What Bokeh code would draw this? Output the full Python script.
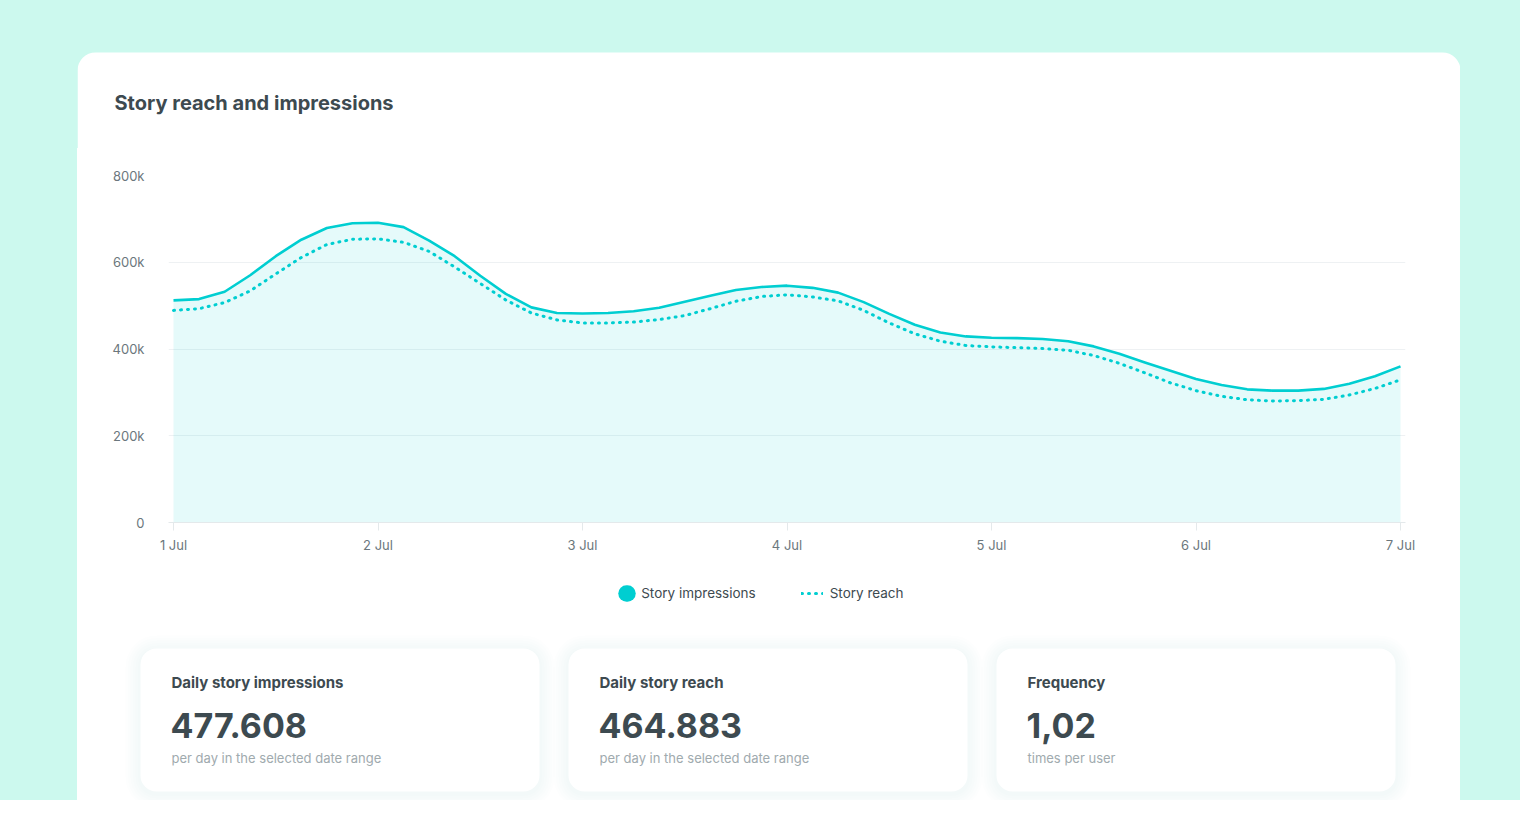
from bokeh.plotting import figure
from bokeh.layouts import column, row
from bokeh.models import FixedTicker, Legend, LegendItem, Range1d
from bokeh.core.properties import value
from bokeh.embed import file_html
from bokeh.resources import INLINE

# ---------------- data (every 3 hours) ----------------
hours = [0, 3, 6, 9, 12, 15, 18, 21, 24, 27, 30, 33, 36, 39, 42, 45, 48,
         51, 54, 57, 60, 63, 66, 69, 72, 75, 78, 81, 84, 87, 90, 93, 96,
         99, 102, 105, 108, 111, 114, 117, 120, 123, 126, 129, 132, 135, 138, 141, 144]
day_ticks = [0, 1, 2, 3, 4, 5, 6]
day_labels = ["1 Jul", "2 Jul", "3 Jul", "4 Jul", "5 Jul", "6 Jul", "7 Jul"]
impressions_k = [512, 515, 532, 570, 614, 652, 679, 690, 691, 681, 650, 614, 569, 527, 496, 483, 482,
                 483, 487, 495, 509, 523, 536, 543, 546, 541, 530, 508, 481, 456, 438, 429, 426,
                 425, 423, 418, 406, 389, 369, 350, 331, 317, 307, 304, 304, 308, 320, 337, 360]
reach_k = [489, 493, 507, 534, 573, 611, 641, 653, 654, 646, 625, 589, 551, 513, 483, 467, 460,
           460, 462, 468, 477, 493, 510, 521, 525, 520, 511, 489, 460, 435, 418, 408, 405,
           403, 401, 397, 385, 367, 345, 322, 304, 291, 283, 280, 281, 284, 294, 309, 329]
y_ticks = [0, 200000, 400000, 600000, 800000]
y_labels = ["0", "200k", "400k", "600k", "800k"]
series_names = ["Story impressions", "Story reach"]
chart_title = "Story reach and impressions"
kpi_titles = ["Daily story impressions", "Daily story reach", "Frequency"]
kpi_values = ["477.608", "464.883", "1,02"]
kpi_notes = ["per day in the selected date range", "per day in the selected date range",
             "times per user"]

x_days = [h / 24 for h in hours]
impressions = [v * 1000 for v in impressions_k]
reach = [v * 1000 for v in reach_k]

# ---------------- styling ----------------
FONT = "Inter"
LINE = "#00CED1"
DARK = "#3D4A50"
GREY = "#6B777D"
LIGHT = "#A0AAAE"
MINT = "#CCF9EE"

W, H = 1520, 800
CARD_L, CARD_R, CARD_T = 77, 1460, 52
CARD_W = CARD_R - CARD_L
TOP_H = 148          # height of the title strip
MID_H = 420          # height of the chart strip
BOT_H = H - TOP_H - MID_H
FL, FR, FT, FB = 168, 1405, 175, 522     # chart frame edges (canvas px)
DAY_PX = 204.5
X0_PX = 173
x_start = (FL - X0_PX) / DAY_PX
x_end = 6 + (FR - (X0_PX + 6 * DAY_PX)) / DAY_PX


def deco_fig(w, h, x0, y_top, y_bottom, bg):
    f = figure(width=w, height=h, x_range=Range1d(x0, x0 + w), y_range=Range1d(y_bottom, y_top),
               x_axis_type=None, y_axis_type=None, min_border=0,
               output_backend="svg", toolbar_location=None)
    f.outline_line_color = None
    f.background_fill_color = bg
    f.border_fill_color = bg
    return f


# ---------- mint side strips ----------
left_pad = deco_fig(CARD_L, H, 0, 0, H, MINT)
right_pad = deco_fig(W - CARD_R, H, CARD_R, 0, H, MINT)
left_pad.quad(left=[0], right=[0], top=[0], bottom=[0], fill_alpha=0, line_alpha=0)
right_pad.quad(left=[CARD_R], right=[CARD_R], top=[0], bottom=[0], fill_alpha=0, line_alpha=0)

# ---------- title strip ----------
top = deco_fig(CARD_W, TOP_H, CARD_L, 0, TOP_H, MINT)
top.quad(left=[CARD_L], right=[CARD_R], top=[CARD_T], bottom=[TOP_H + 60],
         fill_color="white", line_color=None, border_radius=18)
top.text(x=[114], y=[102], text=[chart_title], text_font=value(FONT),
         text_font_size=value("20px"), text_font_style="bold", text_color=DARK,
         text_baseline="middle", text_align="left")

# ---------- chart ----------
p = figure(width=CARD_W, height=MID_H,
           x_range=Range1d(x_start, x_end), y_range=Range1d(0, 800000),
           output_backend="svg", toolbar_location=None,
           min_border_left=FL - CARD_L, min_border_right=CARD_R - FR,
           min_border_top=FT - TOP_H, min_border_bottom=TOP_H + MID_H - FB)
p.border_fill_color = "white"
p.background_fill_color = "white"
p.outline_line_color = None

p.varea(x=x_days, y1=0, y2=impressions, fill_color=LINE, fill_alpha=0.1)
r_reach = p.line(x_days, reach, line_color=LINE, line_width=3, line_dash="1 6",
                 line_cap="round")
r_imp = p.line(x_days, impressions, line_color=LINE, line_width=2.6, line_join="round")

p.xgrid.grid_line_color = None
p.ygrid.grid_line_color = "#EEF1F3"
p.ygrid.ticker = FixedTicker(ticks=y_ticks)

xa = p.xaxis[0]
xa.ticker = FixedTicker(ticks=day_ticks)
xa.major_label_overrides = {t: l for t, l in zip(day_ticks, day_labels)}
xa.axis_line_color = "#E4E9EB"
xa.major_tick_line_color = "#E4E9EB"
xa.major_tick_out = 8
xa.major_tick_in = 0
xa.minor_tick_line_color = None
xa.major_label_standoff = 6
xa.major_label_text_font = FONT
xa.major_label_text_font_size = "13px"
xa.major_label_text_color = GREY

ya = p.yaxis[0]
ya.ticker = FixedTicker(ticks=y_ticks)
ya.major_label_overrides = {t: l for t, l in zip(y_ticks, y_labels)}
ya.axis_line_color = None
ya.major_tick_line_color = None
ya.minor_tick_line_color = None
ya.major_label_standoff = 18
ya.major_label_text_font = FONT
ya.major_label_text_font_size = "13px"
ya.major_label_text_color = GREY

# ---------- bottom strip: legend + KPI cards ----------
B_TOP = TOP_H + MID_H
bot = deco_fig(CARD_W, BOT_H, CARD_L, B_TOP, H, "white")

card_lefts = [140, 568, 996]
CW, CT, CB = 399, 648, 791
for k in range(6, 0, -1):
    e = 2.5 * k
    bot.quad(left=[c - e for c in card_lefts], right=[c + CW + e for c in card_lefts],
             top=[CT - e + 2] * 3, bottom=[CB + e + 2] * 3,
             fill_color="#1F4D4D", fill_alpha=0.008, line_color=None,
             border_radius=int(16 + e))
bot.quad(left=card_lefts, right=[c + CW for c in card_lefts], top=[CT] * 3, bottom=[CB] * 3,
         fill_color="white", line_color=None, border_radius=16)

tx = [c + 31 for c in card_lefts]
bot.text(x=tx, y=[682] * 3, text=kpi_titles, text_font=value(FONT),
         text_font_size=value("15px"), text_font_style="bold", text_color=DARK,
         text_baseline="middle")
bot.text(x=[t - 1 for t in tx], y=[725] * 3, text=kpi_values, text_font=value(FONT),
         text_font_size=value("34px"), text_font_style="bold", text_color=DARK,
         text_baseline="middle")
bot.text(x=tx, y=[757] * 3, text=kpi_notes, text_font=value(FONT),
         text_font_size=value("13px"), text_color=LIGHT, text_baseline="middle")

# legend proxies: data lies outside the visible range, only their styles are shown
leg_dot = bot.line(x=[-500, -400], y=[0, 0], line_color=LINE, line_width=16.5,
                   line_dash="1 200", line_dash_offset=192, line_cap="round")
leg_line = bot.line(x=[-500, -400], y=[0, 0], line_color=LINE, line_width=3,
                    line_dash="1 6", line_cap="round")
LEG_Y = 196.7
leg1 = Legend(items=[LegendItem(label=series_names[0], renderers=[leg_dot])],
              location=(617.2 - CARD_L, LEG_Y), orientation="horizontal",
              glyph_width=19, glyph_height=20, label_standoff=5, padding=0, margin=0,
              border_line_color=None, background_fill_alpha=0,
              label_text_font=FONT, label_text_font_size="13.5px", label_text_color=DARK)
leg2 = Legend(items=[LegendItem(label=series_names[1], renderers=[leg_line])],
              location=(800.7 - CARD_L, LEG_Y), orientation="horizontal",
              glyph_width=22, glyph_height=20, label_standoff=7, padding=0, margin=0,
              border_line_color=None, background_fill_alpha=0,
              label_text_font=FONT, label_text_font_size="13.5px", label_text_color=DARK)
bot.add_layout(leg1, "center")
bot.add_layout(leg2, "center")

# each strip is wrapped in its own row so that Bokeh does not align the frames
inner = column(row(top, spacing=0, styles={"background-color": MINT}),
               row(p, spacing=0, styles={"background-color": "white"}),
               row(bot, spacing=0, styles={"background-color": "white"}),
               spacing=0, styles={"background-color": "white"})
layout = row(left_pad, inner, right_pad, spacing=0, styles={"background-color": MINT})

open("out.html", "w").write(file_html(layout, INLINE))
